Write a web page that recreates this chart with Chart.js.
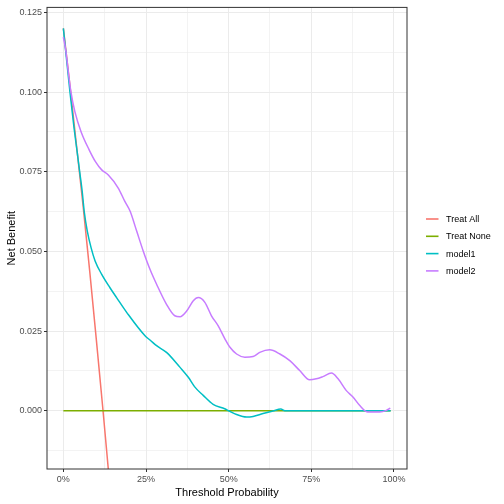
<!DOCTYPE html>
<html lang="en">
<head>
    <meta charset="UTF-8">
    <title>Decision curve</title>
    <style>
        body { margin: 0; background: #ffffff; }
    </style>
</head>
<body>
    <canvas id="Chart" width="504" height="504"></canvas>

    <script src="https://cdn.jsdelivr.net/npm/chart.js"></script>
    <script>
        // threshold probability (x) and net benefit (y)
        const treatAllX = [0, 0.02, 0.04, 0.06, 0.08, 0.10, 0.12, 0.14, 0.16];
        const treatAllY = [0.12, 0.102, 0.083, 0.064, 0.0435, 0.022, 0.0, -0.023, -0.048];

        const treatNoneX = [0, 0.99];
        const treatNoneY = [0, 0];

        const model1X = [0, 0.02, 0.032, 0.042, 0.050, 0.057, 0.063, 0.0725, 0.084, 0.096, 0.116, 0.141,
            0.161, 0.192, 0.249, 0.262, 0.282, 0.312, 0.353, 0.378, 0.398, 0.423, 0.453, 0.488, 0.50,
            0.524, 0.554, 0.574, 0.604, 0.634, 0.658, 0.67, 0.99];
        const model1Y = [0.120, 0.100, 0.089, 0.081, 0.0745, 0.0688, 0.0626, 0.0563, 0.0511, 0.047, 0.0428, 0.0386,
            0.0355, 0.0308, 0.0233, 0.0222, 0.0204, 0.0183, 0.0136, 0.0105, 0.0074, 0.0048, 0.002, 0.0006, 0.0,
            -0.0012, -0.002, -0.0018, -0.0009, -0.0001, 0.0005, 0, 0];

        const model2X = [0, 0.008, 0.015, 0.023, 0.035, 0.0535, 0.078, 0.097, 0.116, 0.136, 0.166, 0.186,
            0.202, 0.222, 0.242, 0.262, 0.282, 0.312, 0.337, 0.353, 0.373, 0.393, 0.408, 0.428, 0.448,
            0.468, 0.489, 0.504, 0.524, 0.549, 0.574, 0.594, 0.624, 0.655, 0.685, 0.715, 0.745, 0.765,
            0.785, 0.811, 0.831, 0.856, 0.876, 0.896, 0.921, 0.957, 0.977, 0.989];
        const model2Y = [0.1173, 0.1126, 0.1063, 0.100, 0.0938, 0.0876, 0.0819, 0.0782, 0.0756, 0.074, 0.0699, 0.0657,
            0.0626, 0.0563, 0.050, 0.0444, 0.0397, 0.0334, 0.0298, 0.0295, 0.0313, 0.0345, 0.0355, 0.034, 0.0298,
            0.0267, 0.0225, 0.0199, 0.0178, 0.0168, 0.017, 0.0183, 0.0191, 0.0178, 0.0157, 0.0126, 0.0097, 0.010,
            0.0107, 0.0118, 0.010, 0.0063, 0.0043, 0.0017, -0.0004, -0.0004, 0.0001, 0.0008];

        const seriesNames = ['Treat All', 'Treat None', 'model1', 'model2'];
        const seriesColors = ['#F8766D', '#7CAE00', '#00BFC4', '#C77CFF'];

        // axis ticks (major with labels, minor only as grid lines)
        const xMajor = [0, 0.25, 0.5, 0.75, 1];
        const xLabels = ['0%', '25%', '50%', '75%', '100%'];
        const xMinor = [0.125, 0.375, 0.625, 0.875];
        const yMajor = [0, 0.025, 0.05, 0.075, 0.1, 0.125];
        const yLabels = ['0.000', '0.025', '0.050', '0.075', '0.100', '0.125'];
        const yMinor = [-0.0125, 0.0125, 0.0375, 0.0625, 0.0875, 0.1125];

        const FONT = 'Liberation Sans, Arial, sans-serif';

        function toPoints(xs, ys) {
            return xs.map((x, i) => ({ x: x, y: ys[i] }));
        }

        function isMajor(list, v) {
            return list.some(m => Math.abs(m - v) < 1e-9);
        }

        function labelFor(majors, labels, v) {
            for (let i = 0; i < majors.length; i++) {
                if (Math.abs(majors[i] - v) < 1e-9) return labels[i];
            }
            return '';
        }

        const seriesData = [
            toPoints(treatAllX, treatAllY),
            toPoints(treatNoneX, treatNoneY),
            toPoints(model1X, model1Y),
            toPoints(model2X, model2Y)
        ];

        // panel border + legend, drawn like ggplot theme_bw
        const panelPlugin = {
            id: 'panel',
            afterDatasetsDraw(chart) {
                const a = chart.chartArea;
                const ctx = chart.ctx;
                ctx.save();
                ctx.strokeStyle = '#333333';
                ctx.lineWidth = 1;
                ctx.strokeRect(a.left, a.top, a.right - a.left, a.bottom - a.top);
                ctx.restore();
            },
            afterDraw(chart) {
                const ctx = chart.ctx;
                ctx.save();
                ctx.font = '9px ' + FONT;
                ctx.textBaseline = 'middle';
                ctx.textAlign = 'left';
                const rowY = 219;
                const step = 17.3;
                seriesNames.forEach((name, i) => {
                    const y = rowY + i * step;
                    ctx.strokeStyle = seriesColors[i];
                    ctx.lineWidth = 1.6;
                    ctx.beginPath();
                    ctx.moveTo(426, y);
                    ctx.lineTo(438.5, y);
                    ctx.stroke();
                    ctx.fillStyle = '#000000';
                    ctx.fillText(name, 446, y + 0.5);
                });
                ctx.restore();
            }
        };

        const canvas = document.getElementById('Chart').getContext('2d');
        new Chart(canvas, {
            type: 'line',
            data: {
                datasets: seriesNames.map((name, i) => ({
                    label: name,
                    data: seriesData[i],
                    borderColor: seriesColors[i],
                    backgroundColor: seriesColors[i],
                    borderWidth: 1.5,
                    pointRadius: 0,
                    fill: false,
                    cubicInterpolationMode: 'monotone',
                    order: seriesNames.length - 1 - i
                }))
            },
            options: {
                responsive: false,
                animation: false,
                devicePixelRatio: 1,
                layout: { padding: { left: 0, top: 5, right: 97, bottom: 0 } },
                plugins: {
                    legend: { display: false },
                    tooltip: { enabled: false }
                },
                scales: {
                    x: {
                        type: 'linear',
                        min: -0.0495,
                        max: 1.0395,
                        afterBuildTicks(scale) {
                            scale.ticks = xMajor.concat(xMinor).sort((a, b) => a - b).map(v => ({ value: v }));
                        },
                        afterFit(scale) { scale.height = 35; },
                        ticks: {
                            autoSkip: false,
                            maxRotation: 0,
                            padding: 2,
                            color: '#4D4D4D',
                            font: { family: FONT, size: 9 },
                            callback: (v) => labelFor(xMajor, xLabels, v)
                        },
                        grid: {
                            color: '#EBEBEB',
                            lineWidth: (c) => isMajor(xMajor, c.tick.value) ? 1 : 0.6,
                            tickColor: (c) => isMajor(xMajor, c.tick.value) ? '#333333' : 'rgba(0,0,0,0)',
                            tickLength: 3,
                            tickWidth: 1
                        },
                        border: { display: false },
                        title: {
                            display: true,
                            text: 'Threshold Probability',
                            color: '#000000',
                            font: { family: FONT, size: 11 },
                            padding: { top: 0, bottom: 4 }
                        }
                    },
                    y: {
                        type: 'linear',
                        min: -0.0183,
                        max: 0.1266,
                        afterBuildTicks(scale) {
                            scale.ticks = yMajor.concat(yMinor).sort((a, b) => a - b).map(v => ({ value: v }));
                        },
                        afterFit(scale) { scale.width = 47; },
                        ticks: {
                            autoSkip: false,
                            padding: 2,
                            color: '#4D4D4D',
                            font: { family: FONT, size: 9 },
                            callback: (v) => labelFor(yMajor, yLabels, v)
                        },
                        grid: {
                            color: '#EBEBEB',
                            lineWidth: (c) => isMajor(yMajor, c.tick.value) ? 1 : 0.6,
                            tickColor: (c) => isMajor(yMajor, c.tick.value) ? '#333333' : 'rgba(0,0,0,0)',
                            tickLength: 3,
                            tickWidth: 1
                        },
                        border: { display: false },
                        title: {
                            display: true,
                            text: 'Net Benefit',
                            color: '#000000',
                            font: { family: FONT, size: 11 },
                            padding: { top: 5, bottom: 0 }
                        }
                    }
                }
            },
            plugins: [panelPlugin]
        });
    </script>
</body>
</html>
